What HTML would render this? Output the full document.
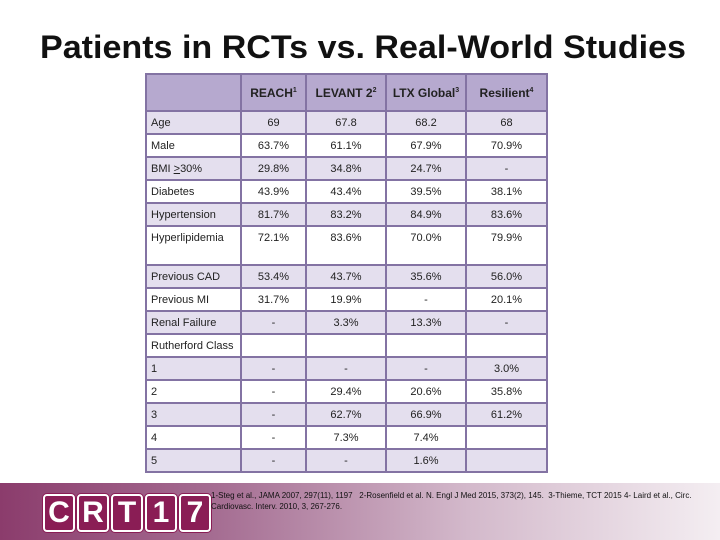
<!DOCTYPE html>
<html><head><meta charset="utf-8"><style>
body{margin:0;width:720px;height:540px;background:#fff;position:relative;overflow:hidden;font-family:"Liberation Sans",sans-serif}
#title{position:absolute;left:0;top:0;width:720px;height:540px}
table{position:absolute;left:145px;top:73px;border-collapse:collapse;table-layout:fixed;font-size:11px;color:#222}
td,th{border:2px solid #8373a3;padding:0 4px;text-align:center;height:23px;box-sizing:border-box}
th{background:#b6a9cf;height:37px;font-weight:bold;font-size:12px}
td:first-child{text-align:left}
tr.l td{background:#e4dfee}
tr.w td{background:#fff}
tr.tall td{height:39px;vertical-align:top;padding-top:5px}
sup{font-size:7px}
#footer{position:absolute;left:0;top:483px;width:720px;height:57px;background:linear-gradient(90deg,#8b3c6c 0%,#a56d92 30%,#d3b9cb 65%,#f4eef2 100%)}
.box{position:absolute;top:11px;width:28px;height:34px;background:#8a1d55;border:2px solid #fff;border-radius:4px;box-shadow:0 0 0 1px #8a1d55;color:#fff;font-weight:bold;font-size:30px;line-height:34px;text-align:center;font-family:"Liberation Sans Narrow","Liberation Sans",sans-serif}
#ref{position:absolute;left:211px;top:7px;width:490px;font-size:8px;line-height:11px;color:#111}
</style></head><body>
<svg id="title"><text x="40" y="58" font-family="Liberation Sans" font-weight="bold" font-size="32" fill="#111" textLength="646" lengthAdjust="spacingAndGlyphs">Patients in RCTs vs. Real-World Studies</text></svg>
<table>
<colgroup><col style="width:95px"><col style="width:65px"><col style="width:80px"><col style="width:80px"><col style="width:81px"></colgroup>
<tr><th></th><th>REACH<sup>1</sup></th><th>LEVANT 2<sup>2</sup></th><th>LTX Global<sup>3</sup></th><th>Resilient<sup>4</sup></th></tr>
<tr class="l"><td>Age</td><td>69</td><td>67.8</td><td>68.2</td><td>68</td></tr>
<tr class="w"><td>Male</td><td>63.7%</td><td>61.1%</td><td>67.9%</td><td>70.9%</td></tr>
<tr class="l"><td>BMI <u>&gt;</u>30%</td><td>29.8%</td><td>34.8%</td><td>24.7%</td><td>-</td></tr>
<tr class="w"><td>Diabetes</td><td>43.9%</td><td>43.4%</td><td>39.5%</td><td>38.1%</td></tr>
<tr class="l"><td>Hypertension</td><td>81.7%</td><td>83.2%</td><td>84.9%</td><td>83.6%</td></tr>
<tr class="w tall"><td>Hyperlipidemia</td><td>72.1%</td><td>83.6%</td><td>70.0%</td><td>79.9%</td></tr>
<tr class="l"><td>Previous CAD</td><td>53.4%</td><td>43.7%</td><td>35.6%</td><td>56.0%</td></tr>
<tr class="w"><td>Previous MI</td><td>31.7%</td><td>19.9%</td><td>-</td><td>20.1%</td></tr>
<tr class="l"><td>Renal Failure</td><td>-</td><td>3.3%</td><td>13.3%</td><td>-</td></tr>
<tr class="w"><td>Rutherford Class</td><td></td><td></td><td></td><td></td></tr>
<tr class="l"><td>1</td><td>-</td><td>-</td><td>-</td><td>3.0%</td></tr>
<tr class="w"><td>2</td><td>-</td><td>29.4%</td><td>20.6%</td><td>35.8%</td></tr>
<tr class="l"><td>3</td><td>-</td><td>62.7%</td><td>66.9%</td><td>61.2%</td></tr>
<tr class="w"><td>4</td><td>-</td><td>7.3%</td><td>7.4%</td><td></td></tr>
<tr class="l"><td>5</td><td>-</td><td>-</td><td>1.6%</td><td></td></tr>
</table>
<div id="footer">
<div>
<div class="box" style="left:43px">C</div><div class="box" style="left:77px">R</div><div class="box" style="left:111px">T</div><div class="box" style="left:145px">1</div><div class="box" style="left:179px">7</div>
</div>
<div id="ref">1-Steg et al., JAMA 2007, 297(11), 1197 &nbsp; 2-Rosenfield et al. N. Engl J Med 2015, 373(2), 145. &nbsp;3-Thieme, TCT 2015 4- Laird et al., Circ. Cardiovasc. Interv. 2010, 3, 267-276.</div>
</div>
</body></html>
